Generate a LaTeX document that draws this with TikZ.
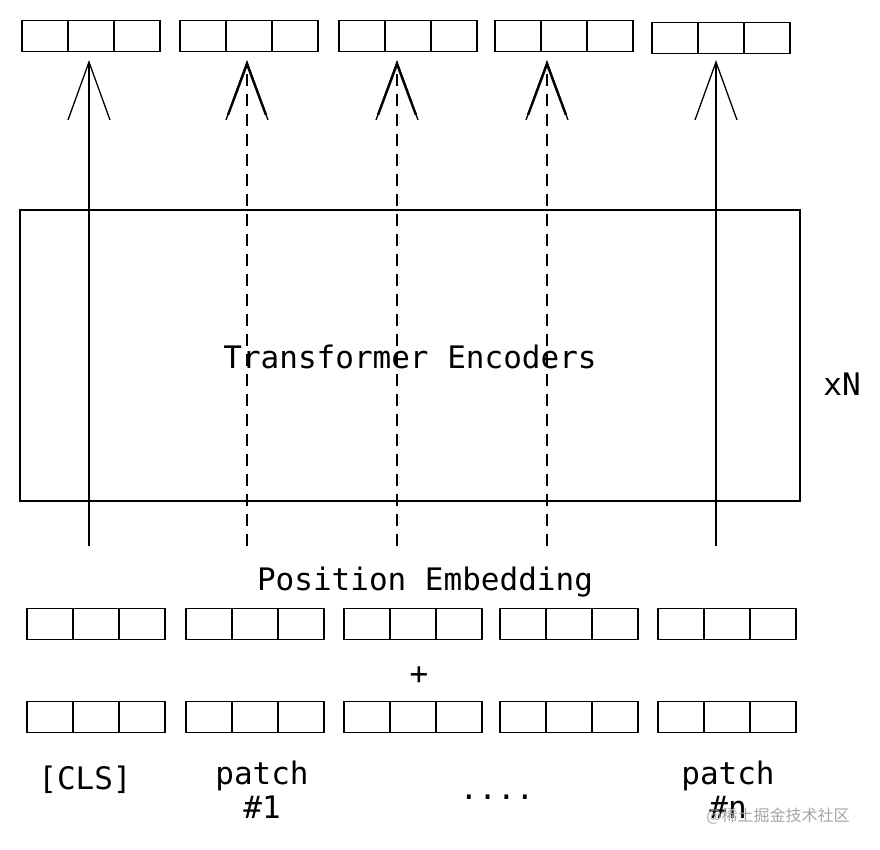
\documentclass[tikz,border=0pt]{standalone}
\usepackage{fontspec}
\setmainfont{DejaVu Sans Mono}
\newfontfamily\cjk{Noto Sans CJK SC}
\begin{document}
\begin{tikzpicture}[x=1pt,y=-1pt,
  cell/.style={draw,minimum width=46pt,minimum height=31pt,inner sep=0pt,line width=1.2pt},
  lbl/.style={font=\fontsize{31}{34}\selectfont,inner sep=0pt},
  arr/.style={line width=1.3pt},
  dsh/.style={arr,dash pattern=on 12pt off 8pt}]
\useasboundingbox (0,0) rectangle (880,850);
\newcommand{\myvec}[3]{% name, left x, center y
  \foreach \i in {0,1,2}{\node[cell] (#1\i) at ({#2+23+46*\i},#3) {};}}
\myvec{t1}{22}{36}\myvec{t2}{180}{36}\myvec{t3}{339}{36}\myvec{t4}{495}{36}\myvec{t5}{652}{38}
\myvec{p1}{27}{624}\myvec{p2}{186}{624}\myvec{p3}{344}{624}\myvec{p4}{500}{624}\myvec{p5}{658}{624}
\myvec{e1}{27}{717}\myvec{e2}{186}{717}\myvec{e3}{344}{717}\myvec{e4}{500}{717}\myvec{e5}{658}{717}
\node[draw,line width=1.2pt,minimum width=780pt,minimum height=291pt,inner sep=0pt] (enc) at (410,355.5) {};
\node[lbl] (encl) at (410,357) {Transformer Encoders};
\node[lbl] (xn) at (842,384) {xN};
\node[lbl] (pe) at (425,582) {Position Embedding};
\node[lbl] (plus) at (419,676) {+};
\node[lbl] (cls) at (85,780) {[CLS]};
\node[lbl,align=center] (pa1) at (262,790) {patch\\\#1};
\node[lbl] (dots) at (497,797) {....};
\node[lbl,align=center] (pan) at (728,790) {patch\\\#n};
\node[font=\cjk\fontsize{16}{18}\selectfont,text=gray!70] (wm) at (778,816) {@稀土掘金技术社区};
\foreach \x/\s in {89/arr,247/dsh,397/dsh,547/dsh,716/arr}{
  \coordinate (a\x) at (\x,546); \coordinate (b\x) at (\x,62);
  \draw[\s] (a\x) -- (b\x);
  \draw[arr] (\x-21,120) -- (b\x) -- (\x+21,120);}
\foreach \x in {247,397,547}{\draw[line width=2.4pt] (\x-19,115) -- (\x,64) -- (\x+19,115);}
\end{tikzpicture}
\end{document}
